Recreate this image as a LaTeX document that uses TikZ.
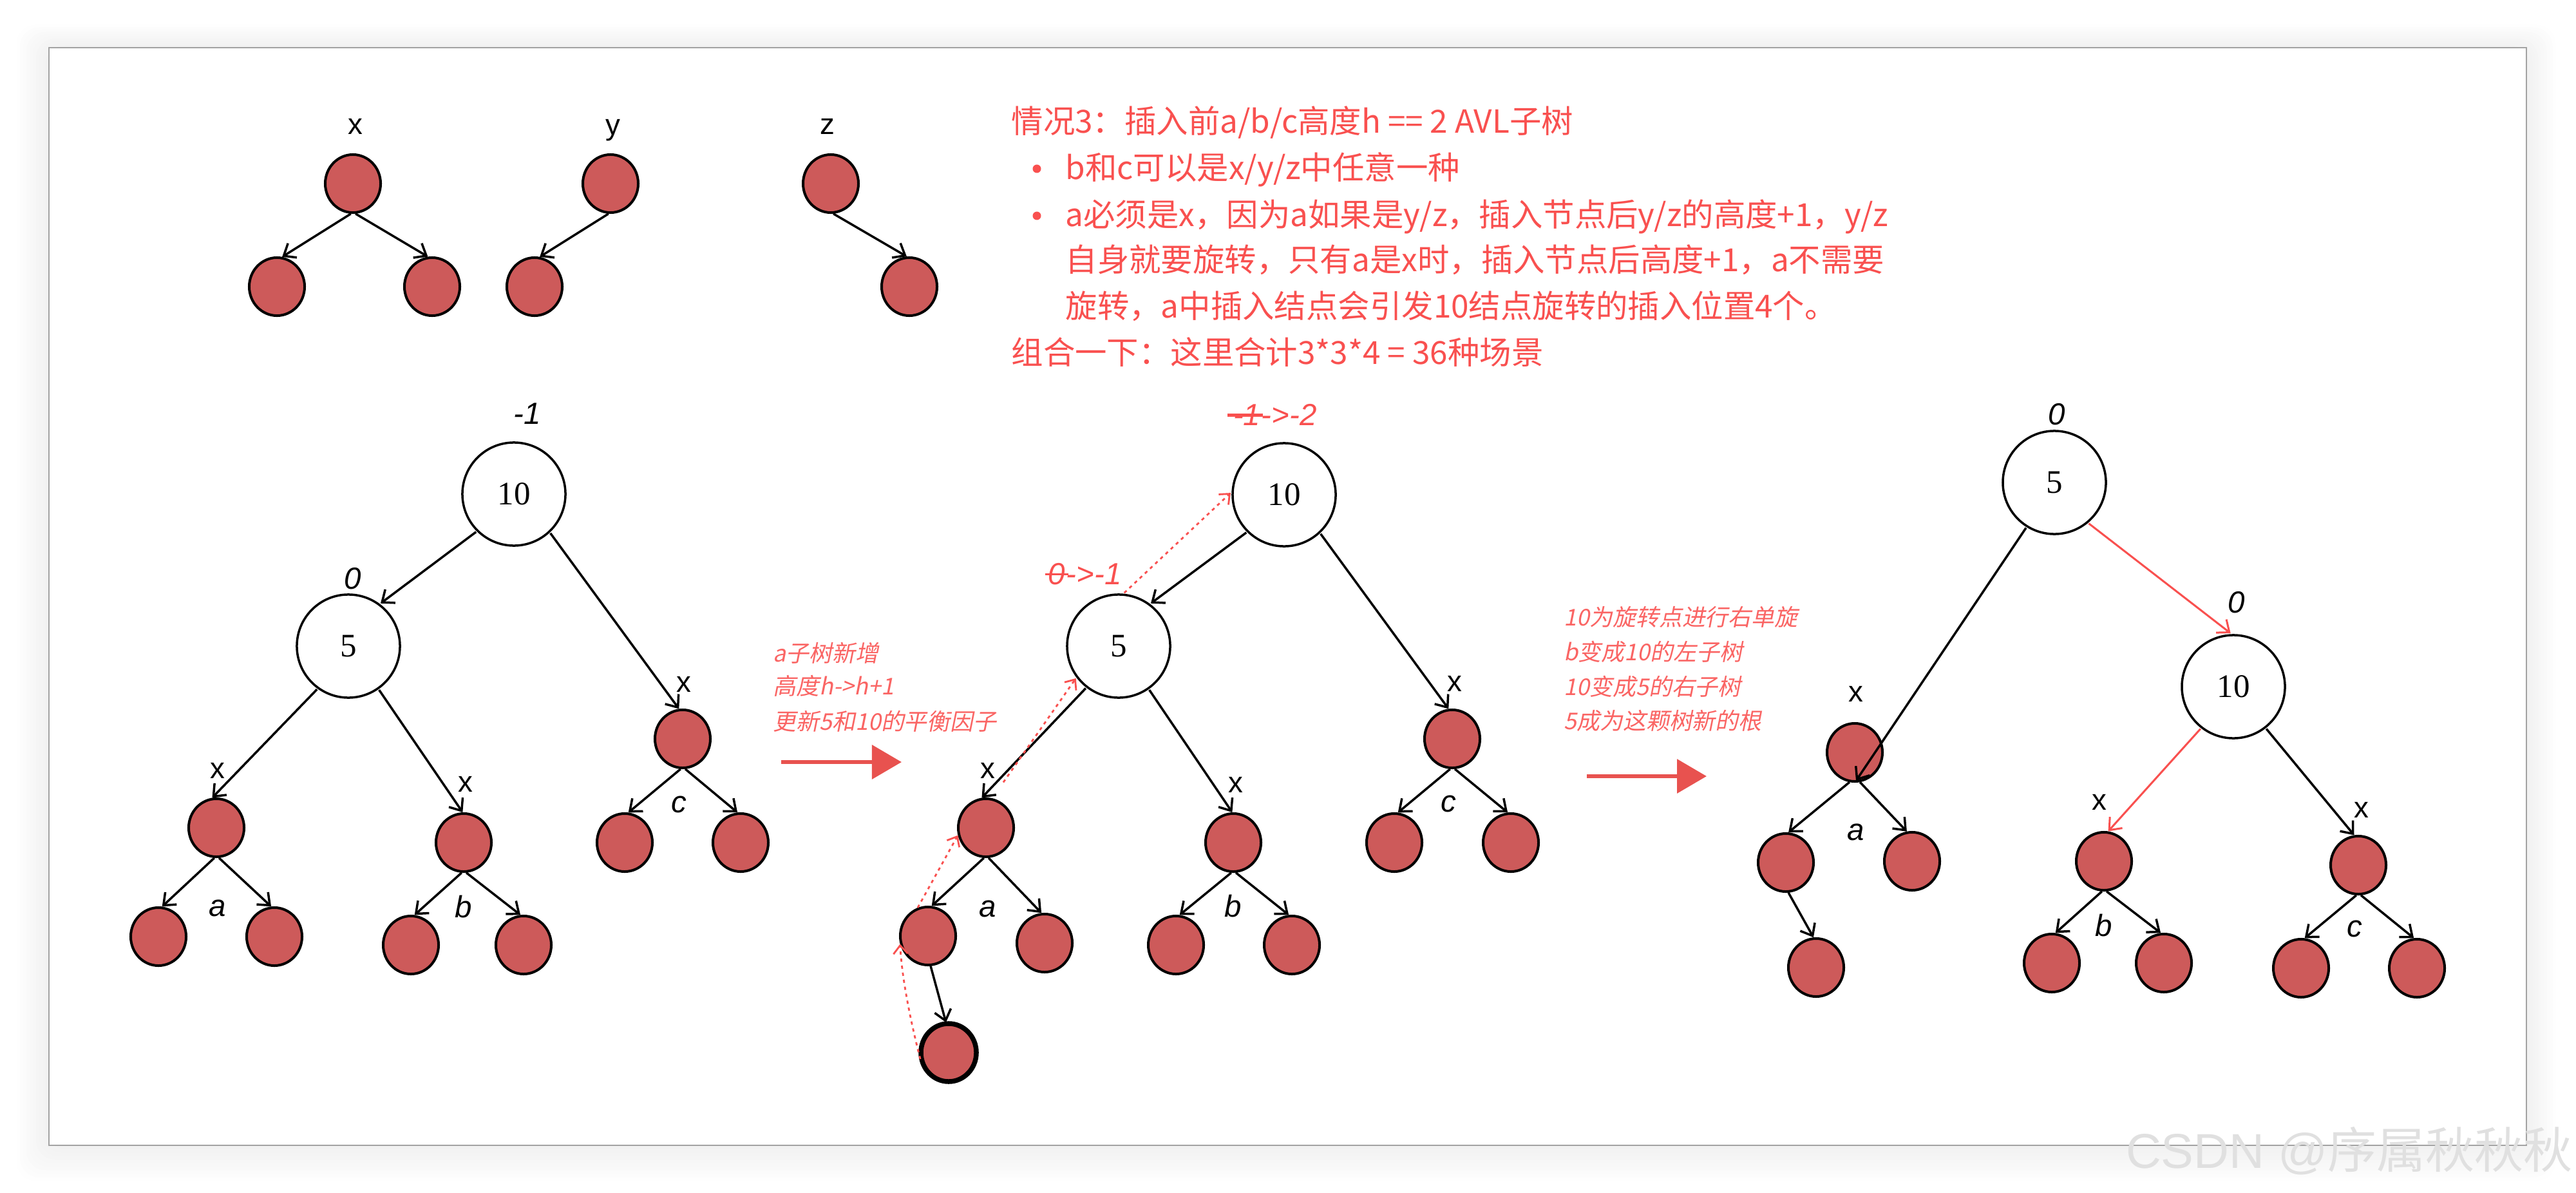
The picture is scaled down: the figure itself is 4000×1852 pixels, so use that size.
\documentclass[tikz,border=0pt]{standalone}
\usepackage{fontspec}
\usetikzlibrary{arrows.meta,shapes.geometric}
\setmainfont{Liberation Sans}
\setsansfont{Liberation Sans}
\newfontfamily\cjk{Noto Sans CJK SC}
\newfontfamily\cjkit[FakeSlant=0.2]{Noto Sans CJK SC}
\newfontfamily\numf{Liberation Serif}
\definecolor{nodered}{HTML}{CD5A5A}
\definecolor{txtred}{HTML}{F9504F}
\definecolor{arrred}{HTML}{E8524F}
\newcommand{\fs}[1]{\fontsize{#1}{#1}\selectfont}
\tikzset{
  x=0.01cm,y=-0.01cm,
  rednode/.style={ellipse,draw=black,fill=nodered,line width=0.04cm,minimum width=0.86cm,minimum height=0.90cm,inner sep=0pt,outer sep=0.02cm},
  newnode/.style={rednode,line width=0.075cm},
  whitenode/.style={circle,draw=black,fill=white,line width=0.035cm,minimum size=1.60cm,inner sep=0pt,outer sep=0.03cm,font=\fs{14.5}\numf},
  edge/.style={draw=black,line width=0.035cm,-{Straight Barb[length=0.16cm,width=0.26cm,line width=0.035cm]}},
  rededge/.style={draw=txtred,line width=0.03cm,-{Straight Barb[length=0.16cm,width=0.26cm,line width=0.03cm]}},
  dotedge/.style={draw=txtred,line width=0.028cm,dash pattern=on 0.05cm off 0.06cm,-{Straight Barb[length=0.13cm,width=0.22cm,line width=0.028cm]}},
  bigarrow/.style={draw=arrred,line width=0.065cm,-{Triangle[length=0.46cm,width=0.52cm,fill=arrred]}},
  lab/.style={font=\fs{13}\sffamily,text=black,inner sep=0pt},
  ilab/.style={font=\fs{13.5}\itshape,text=black,inner sep=0pt},
  rlab/.style={font=\fs{13.5}\itshape,text=txtred,inner sep=0pt},
  note/.style={font=\fs{10.2}\cjkit,text=txtred!88,inner sep=0pt,anchor=base west},
  info/.style={font=\fs{14.05}\cjk,text=txtred,inner sep=0pt,anchor=base west},
}
\begin{document}
\begin{tikzpicture}
\useasboundingbox (0,0) rectangle (4000,1852);
% card with soft shadow
\fill[white] (0,0) rectangle (4000,1852);
\foreach \k in {10,9,...,1}{
  \pgfmathsetmacro{\g}{(11-\k)*0.55}
  \fill[black!\g!white,rounded corners=0.3cm] (76-5*\k,74-3.5*\k) rectangle (3923+4.5*\k,1778+5.5*\k);
}
\draw[draw=black!36,fill=white,line width=0.025cm] (76,74) rectangle (3923,1778);

% top row
\node[rednode] (xr) at (548,285) {};
\node[rednode] (xl) at (430,445) {};
\node[rednode] (xrr) at (671,445) {};
\node[rednode] (yr) at (948,285) {};
\node[rednode] (yl) at (830,445) {};
\node[rednode] (zr) at (1290,285) {};
\node[rednode] (zc) at (1412,445) {};
\node[lab] (lx) at (552,196) {x};
\node[lab] (ly) at (952,202) {y};
\node[lab] (lz) at (1285,196) {z};
\draw[edge] (xr.-94) -- (xl.80);
\draw[edge] (xr.-85) -- (xrr.98);
\draw[edge] (yr.-94) -- (yl.80);
\draw[edge] (zr.-85) -- (zc.95);

% tree 1
\node[whitenode] (ar) at (798,767) {10};
\node[whitenode] (a5) at (541,1003) {5};
\node[rednode] (aa) at (336,1285) {};
\node[rednode] (ab) at (720,1308) {};
\node[rednode] (ac) at (1060,1147) {};
\node[rednode] (aa1) at (246,1454) {};
\node[rednode] (aa2) at (426,1454) {};
\node[rednode] (ab1) at (638,1467) {};
\node[rednode] (ab2) at (813,1467) {};
\node[rednode] (ac1) at (970,1308) {};
\node[rednode] (ac2) at (1150,1308) {};
\draw[edge] (ar.225) -- (a5.53);
\draw[edge] (ar.-47) -- (ac.97);
\draw[edge] (a5.234) -- (aa.98);
\draw[edge] (a5.-55) -- (ab.92);
\draw[edge] (aa.-94) -- (aa1.83);
\draw[edge] (aa.-85) -- (aa2.96);
\draw[edge] (ab.-94) -- (ab1.83);
\draw[edge] (ab.-85) -- (ab2.96);
\draw[edge] (ac.-94) -- (ac1.83);
\draw[edge] (ac.-85) -- (ac2.96);
\node[ilab] (an1) at (819,642) {-1};
\node[ilab] (an0) at (548,898) {0};
\node[lab] (ax1) at (338,1196) {x};
\node[lab] (ax2) at (723,1217) {x};
\node[lab] (ax3) at (1062,1062) {x};
\node[ilab] (aA) at (338,1410) {a};
\node[ilab] (aB) at (720,1408) {b};
\node[ilab] (aC) at (1054,1249) {c};

% notes and arrow 1
\node[note] (n11) at (1200,1027) {a子树新增};
\node[note] (n12) at (1200,1078) {高度h->h+1};
\node[note] (n13) at (1200,1133) {更新5和10的平衡因子};
\coordinate (b1s) at (1213,1183);
\coordinate (b1e) at (1400,1183);
\draw[bigarrow] (b1s) -- (b1e);

% tree 2
\node[whitenode] (br) at (1994,768) {10};
\node[whitenode] (b5) at (1737,1003) {5};
\node[rednode] (ba) at (1531,1285) {};
\node[rednode] (bb) at (1915,1308) {};
\node[rednode] (bc) at (2255,1147) {};
\node[rednode] (ba1) at (1441,1453) {};
\node[rednode] (ba2) at (1622,1464) {};
\node[rednode] (bb1) at (1826,1467) {};
\node[rednode] (bb2) at (2006,1467) {};
\node[rednode] (bc1) at (2165,1308) {};
\node[rednode] (bc2) at (2346,1308) {};
\node[newnode] (bn) at (1473,1634) {};
\draw[edge] (br.225) -- (b5.53);
\draw[edge] (br.-47) -- (bc.97);
\draw[edge] (b5.232) -- (ba.98);
\draw[edge] (b5.-55) -- (bb.92);
\draw[edge] (ba.-94) -- (ba1.83);
\draw[edge] (ba.-85) -- (ba2.96);
\draw[edge] (bb.-94) -- (bb1.83);
\draw[edge] (bb.-85) -- (bb2.96);
\draw[edge] (bc.-94) -- (bc1.83);
\draw[edge] (bc.-85) -- (bc2.96);
\draw[edge] (ba1.-85) -- (bn.95);
\draw[dotedge] (bn.193) .. controls (1410,1570) and (1400,1510) .. (ba1.196);
\draw[dotedge] (ba1.110) -- (ba.195);
\draw[dotedge,shorten <=0.3cm] (ba.78) -- (b5.217);
\draw[dotedge] (b5.84) -- (br.178);
\node[rlab,anchor=east] (st1) at (1958,644) {-1};
\node[rlab,anchor=west] (st1b) at (st1.east) {->-2};
\draw[draw=txtred,line width=0.05cm] ([xshift=-0.08cm]st1.west) -- ([xshift=0.03cm]st1.east);
\node[rlab,anchor=east] (st2) at (1655,891) {0};
\node[rlab,anchor=west] (st2b) at (st2.east) {->-1};
\draw[draw=txtred,line width=0.03cm] ([xshift=-0.04cm]st2.west) -- ([xshift=0.04cm]st2.east);
\node[lab] (bx1) at (1534,1196) {x};
\node[lab] (bx2) at (1919,1218) {x};
\node[lab] (bx3) at (2259,1061) {x};
\node[ilab] (bA) at (1534,1411) {a};
\node[ilab] (bB) at (1915,1407) {b};
\node[ilab] (bC) at (2249,1248) {c};

% notes and arrow 2
\node[note] (n21) at (2428,971) {10为旋转点进行右单旋};
\node[note] (n22) at (2428,1025) {b变成10的左子树};
\node[note] (n23) at (2428,1079) {10变成5的右子树};
\node[note] (n24) at (2428,1132) {5成为这颗树新的根};
\coordinate (b2s) at (2464,1205);
\coordinate (b2e) at (2650,1205);
\draw[bigarrow] (b2s) -- (b2e);

% tree 3
\node[whitenode] (cr) at (3190,749) {5};
\node[whitenode] (c10) at (3468,1066) {10};
\node[rednode] (ca) at (2880,1168) {};
\node[rednode] (cb) at (3267,1337) {};
\node[rednode] (cc) at (3662,1343) {};
\node[rednode] (ca1) at (2773,1339) {};
\node[rednode] (ca2) at (2969,1337) {};
\node[rednode] (cn) at (2820,1502) {};
\node[rednode] (cb1) at (3186,1495) {};
\node[rednode] (cb2) at (3360,1495) {};
\node[rednode] (cc1) at (3573,1503) {};
\node[rednode] (cc2) at (3753,1503) {};
\coordinate (cin) at (2882,1212);
\draw[edge] (cr.-122) -- (cin);
\draw[rededge] (cr.-50) -- (c10.93);
\draw[rededge] (c10.-128) -- (cb.82);
\draw[edge] (c10.-52) -- (cc.98);
\draw[edge] (ca.-100) -- (ca1.85);
\draw[edge] (ca.-80) -- (ca2.100);
\draw[edge] (ca1.-85) -- (cn.95);
\draw[edge] (cb.-94) -- (cb1.83);
\draw[edge] (cb.-85) -- (cb2.96);
\draw[edge] (cc.-94) -- (cc1.83);
\draw[edge] (cc.-85) -- (cc2.96);
\node[ilab] (c01) at (3194,643) {0};
\node[ilab] (c02) at (3473,935) {0};
\node[lab] (cx1) at (2882,1077) {x};
\node[lab] (cx2) at (3260,1245) {x};
\node[lab] (cx3) at (3667,1257) {x};
\node[ilab] (cA) at (2882,1292) {a};
\node[ilab] (cB) at (3267,1437) {b};
\node[ilab] (cC) at (3656,1442) {c};

% info text
\node[info] (t1) at (1570,207) {情况3：插入前a/b/c高度h == 2 AVL子树};
\node[info] (t2) at (1654,279) {b和c可以是x/y/z中任意一种};
\node[info] (t3) at (1654,352) {a必须是x，因为a如果是y/z，插入节点后y/z的高度+1，y/z};
\node[info] (t4) at (1654,422) {自身就要旋转，只有a是x时，插入节点后高度+1，a不需要};
\node[info] (t5) at (1654,494) {旋转，a中插入结点会引发10结点旋转的插入位置4个。};
\node[info] (t6) at (1570,565) {组合一下：这里合计3*3*4 = 36种场景};
\fill[txtred] (1610,262) circle (0.065cm);
\fill[txtred] (1610,335) circle (0.065cm);

% watermark
\node[font=\fs{21.6}\cjk,text=black!12,inner sep=0pt,anchor=east] (wm) at (3995,1787) {\fontspec{Liberation Sans}CSDN @\cjk 序属秋秋秋};
\end{tikzpicture}
\end{document}
